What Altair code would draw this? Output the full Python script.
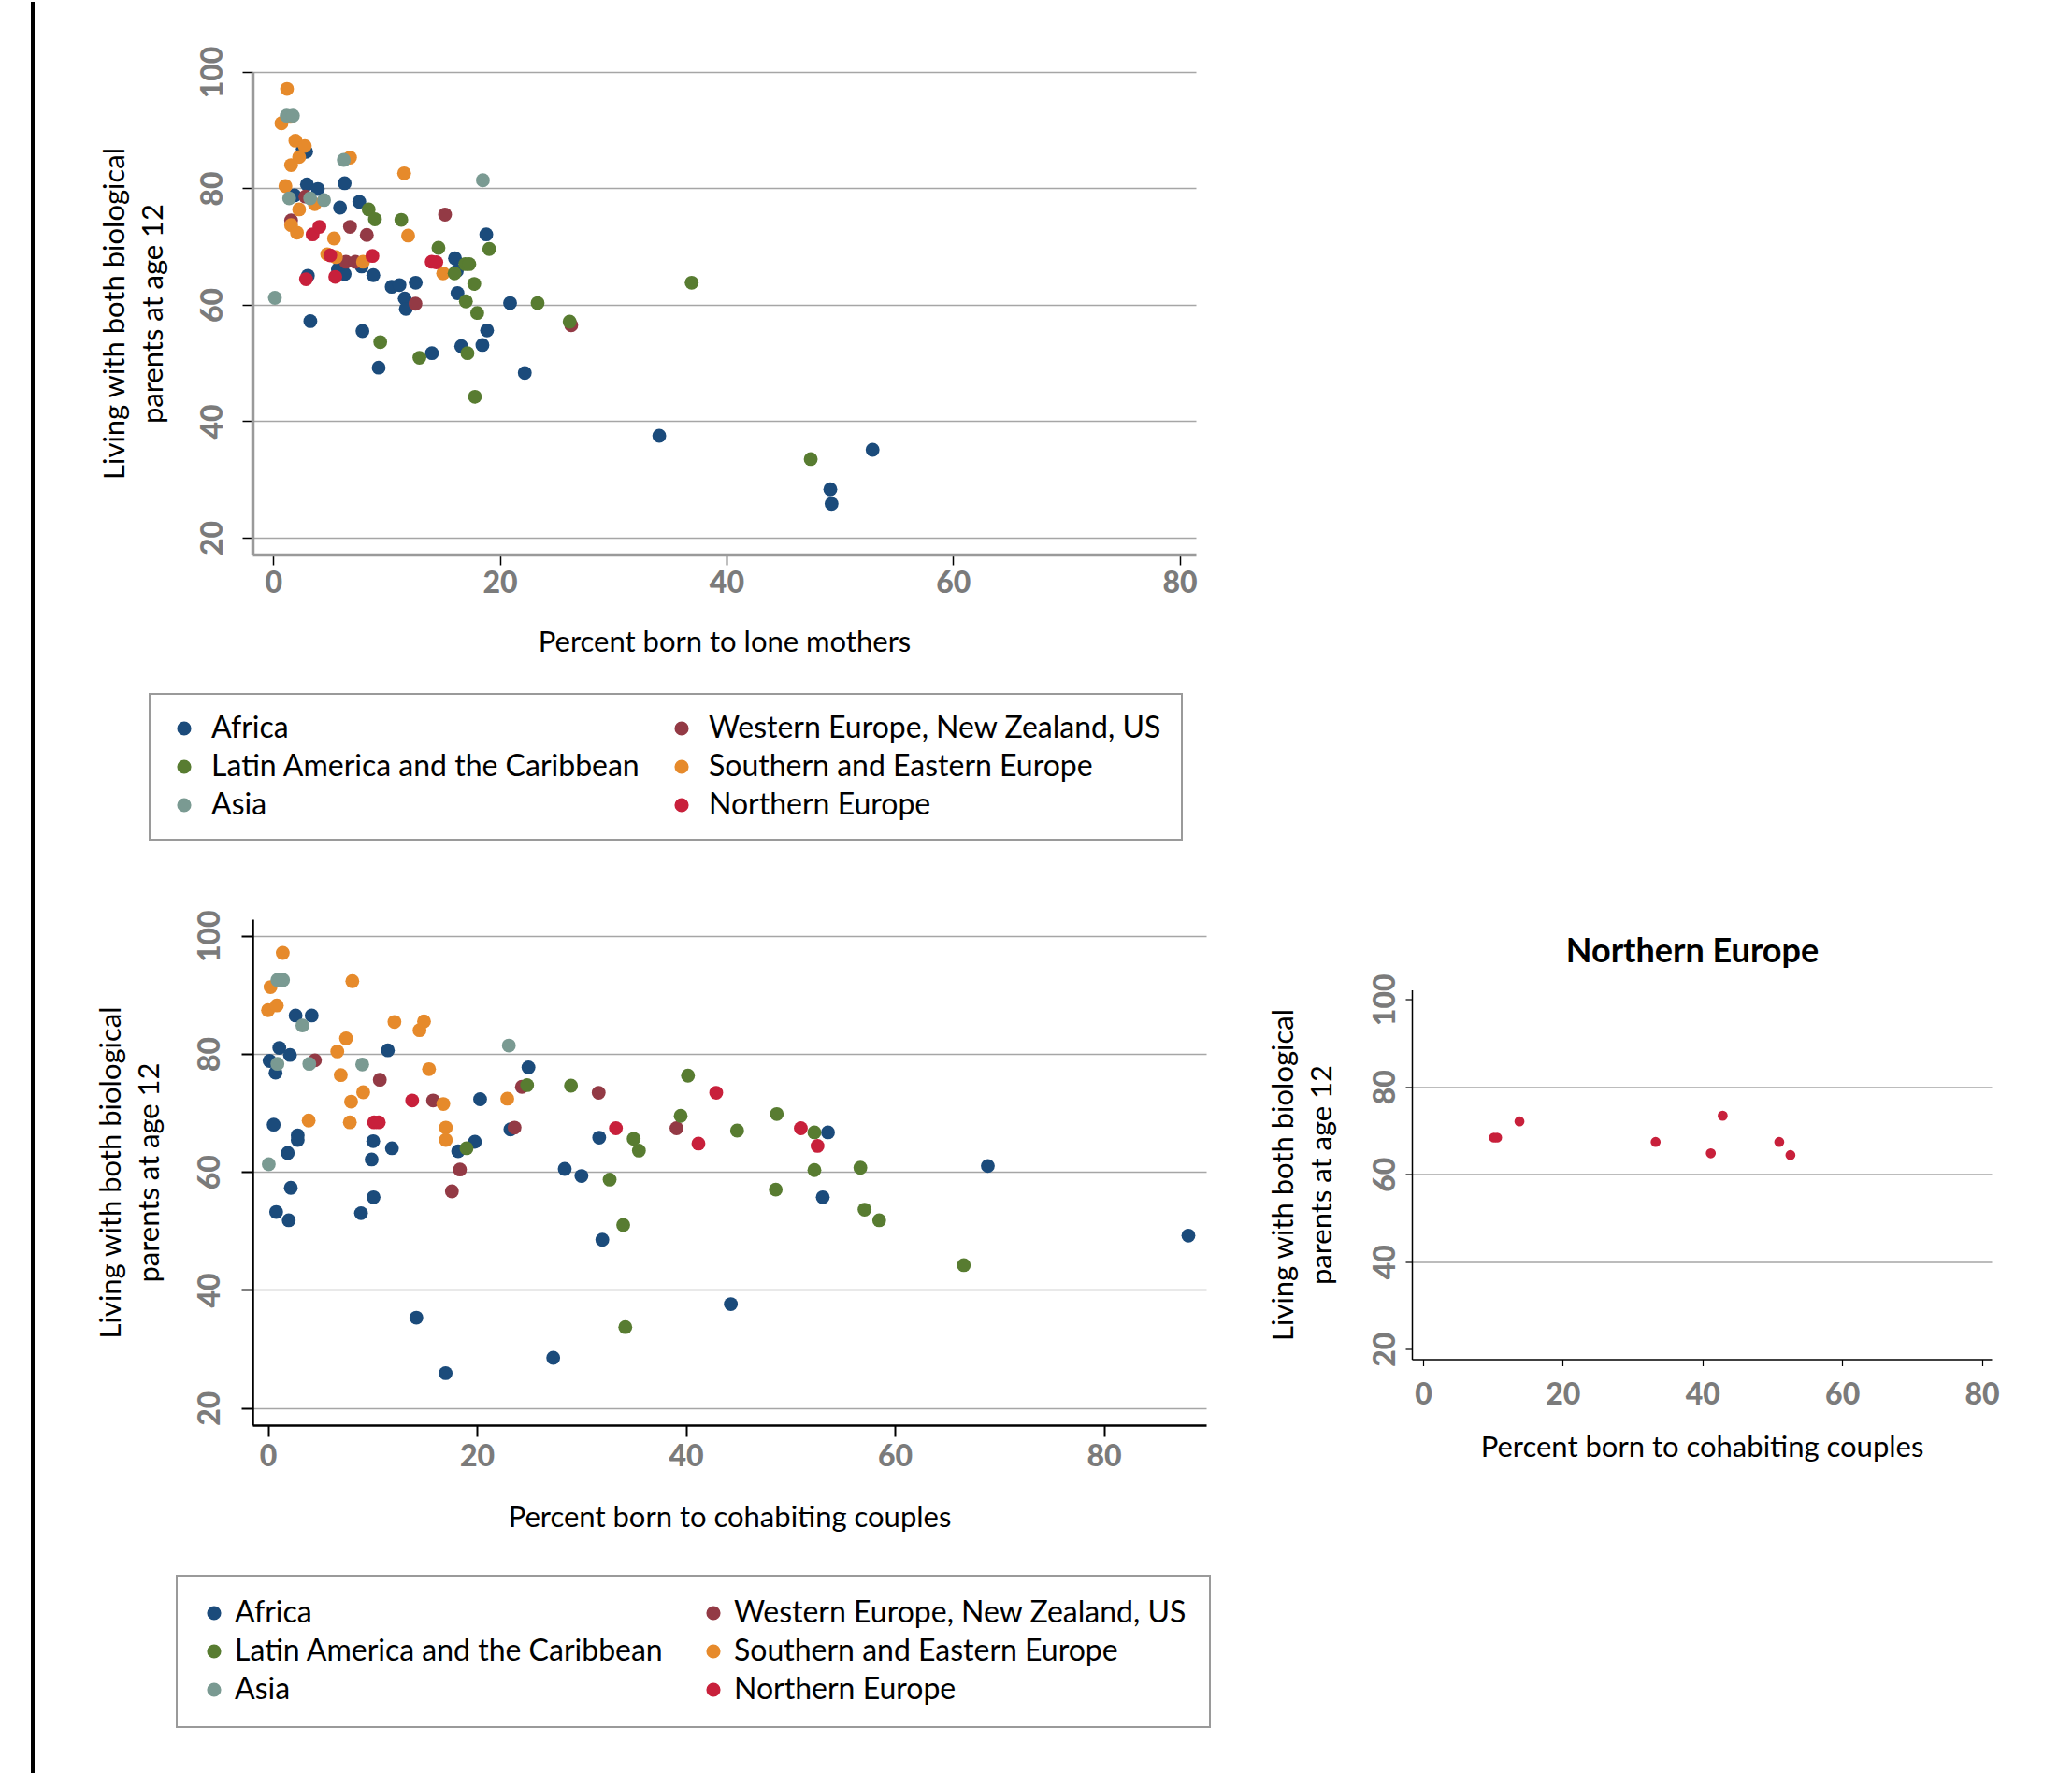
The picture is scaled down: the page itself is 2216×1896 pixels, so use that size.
import altair as alt
import pandas as pd

FONT = "Lato"
LABEL_GRAY = "#7b7b7b"

# Legend order (a 2-column legend fills column by column)
REGIONS = ["Africa", "Latin America and the Caribbean", "Asia",
           "Western Europe, New Zealand, US", "Southern and Eastern Europe", "Northern Europe"]
COLORS = ["#1b4b7b", "#587c31", "#7a9a92", "#933a45", "#e68a2b", "#c8203b"]
DRAW_ORDER = ["Africa", "Western Europe, New Zealand, US", "Southern and Eastern Europe",
              "Latin America and the Caribbean", "Asia", "Northern Europe"]

# ---------- Panel 1: percent born to lone mothers ----------
lone_africa_x = [2.97, 3.93, 6.3, 1.87, 5.89, 7.59, 18.8, 16.04, 16.2, 3.05, 5.7, 6.3, 7.8, 8.83,
                 10.45, 11.14, 12.57, 11.6, 11.7, 16.26, 20.9, 3.27, 7.87, 18.87, 9.3, 14.0, 16.59,
                 18.46, 22.2, 34.07, 49.17, 49.28, 52.9, 2.6, 2.9, 6.0]
lone_africa_y = [80.7, 79.9, 80.9, 78.8, 76.7, 77.7, 72.1, 68.0, 65.8, 65.0, 66.1, 65.3, 66.6, 65.1,
                 63.1, 63.4, 63.8, 61.1, 59.3, 62.0, 60.3, 57.2, 55.5, 55.6, 49.2, 51.7, 52.9,
                 53.1, 48.3, 37.5, 28.3, 25.8, 35.1, 86.8, 86.3, 67.0]
lone_latin_x = [8.42, 8.97, 11.3, 14.58, 19.06, 16.95, 17.3, 16.0, 17.74, 17.0, 18.0, 23.33, 26.16,
                9.44, 12.9, 17.14, 17.8, 36.93, 47.44]
lone_latin_y = [76.4, 74.7, 74.6, 69.8, 69.6, 67.0, 67.0, 65.4, 63.6, 60.6, 58.6, 60.3, 57.1,
                53.6, 50.9, 51.7, 44.2, 63.8, 33.5]
lone_asia_x = [1.18, 1.73, 6.22, 18.5, 1.4, 3.25, 4.48, 0.14]
lone_asia_y = [92.5, 92.5, 84.9, 81.4, 78.3, 78.3, 78.0, 61.2]
lone_west_x = [2.83, 1.57, 15.16, 6.77, 8.25, 6.41, 7.24, 12.55, 26.3]
lone_west_y = [78.6, 74.5, 75.5, 73.4, 72.0, 67.4, 67.4, 60.2, 56.5]
lone_south_x = [1.21, 0.72, 1.95, 2.78, 2.28, 1.57, 6.77, 11.55, 1.07, 2.28, 3.66, 1.57, 2.09,
                5.36, 11.9, 4.76, 5.53, 7.92, 14.99, 1.5]
lone_south_y = [97.1, 91.2, 88.2, 87.3, 85.4, 84.0, 85.3, 82.6, 80.4, 76.4, 77.3, 73.7, 72.4,
                71.4, 71.9, 68.7, 68.2, 67.4, 65.4, 92.3]
lone_north_x = [3.47, 4.07, 5.03, 8.75, 13.98, 14.39, 2.89, 5.47]
lone_north_y = [72.1, 73.4, 68.5, 68.4, 67.4, 67.3, 64.4, 64.8]

# ---------- Panel 2: percent born to cohabiting couples ----------
cohab_africa_x = [2.64, 4.18, 1.08, 2.1, 0.15, 0.72, 11.47, 24.93, 20.3, 0.54, 2.84, 2.84, 10.07,
                  11.86, 9.92, 1.89, 18.2, 19.8, 23.2, 31.7, 28.4, 30.0, 2.18, 10.1, 0.78, 1.98,
                  8.9, 32.0, 14.2, 53.6, 68.9, 53.1, 88.1, 44.3, 27.3, 17.0]
cohab_africa_y = [86.5, 86.5, 81.0, 79.8, 78.8, 76.8, 80.6, 77.7, 72.3, 68.0, 66.2, 65.4, 65.2,
                  64.0, 62.1, 63.2, 63.5, 65.1, 67.2, 65.8, 60.5, 59.3, 57.3, 55.7, 53.2, 51.8,
                  53.0, 48.5, 35.3, 66.7, 61.0, 55.7, 49.2, 37.6, 28.5, 25.9]
cohab_latin_x = [24.8, 29.0, 40.2, 39.5, 35.0, 35.5, 19.0, 32.7, 34.0, 34.2, 44.9, 48.7, 52.3,
                 48.6, 52.3, 56.7, 57.1, 58.5, 66.6]
cohab_latin_y = [74.7, 74.6, 76.3, 69.5, 65.6, 63.6, 64.0, 58.7, 51.0, 33.7, 67.0, 69.8, 66.7,
                 57.0, 60.3, 60.7, 53.6, 51.8, 44.2]
cohab_asia_x = [0.9, 1.44, 3.29, 0.9, 3.95, 9.02, 23.05, 0.07]
cohab_asia_y = [92.5, 92.5, 84.8, 78.3, 78.3, 78.2, 81.4, 61.3]
cohab_west_x = [4.49, 10.7, 15.8, 18.37, 17.6, 24.3, 23.6, 31.65, 39.1]
cohab_west_y = [78.9, 75.6, 72.1, 60.4, 56.7, 74.4, 67.5, 73.4, 67.4]
cohab_south_x = [1.41, 0.24, 0.0, 0.84, 8.07, 12.1, 14.5, 14.93, 7.47, 6.63, 6.96, 15.41, 9.11,
                 7.95, 3.89, 7.83, 16.78, 17.02, 17.02, 22.9]
cohab_south_y = [97.1, 91.3, 87.4, 88.2, 92.3, 85.4, 84.0, 85.5, 82.6, 80.4, 76.4, 77.4, 73.5,
                 71.9, 68.7, 68.4, 71.5, 67.5, 65.4, 72.4]
cohab_north_x = [13.8, 10.15, 10.6, 33.3, 42.9, 41.2, 51.0, 52.6]
cohab_north_y = [72.1, 68.4, 68.4, 67.4, 73.4, 64.8, 67.4, 64.4]

Y_TICKS = [20, 40, 60, 80, 100]
X_TICKS = [0, 20, 40, 60, 80]
Y_TITLE = ["Living with both biological", "parents at age 12"]


def frame(series):
    rows = []
    for region in DRAW_ORDER:
        xs, ys = series[region]
        for a, b in zip(xs, ys):
            rows.append({"x": a, "y": b, "region": region})
    return pd.DataFrame(rows)


top_df = frame({
    "Africa": (lone_africa_x, lone_africa_y),
    "Western Europe, New Zealand, US": (lone_west_x, lone_west_y),
    "Southern and Eastern Europe": (lone_south_x, lone_south_y),
    "Latin America and the Caribbean": (lone_latin_x, lone_latin_y),
    "Asia": (lone_asia_x, lone_asia_y),
    "Northern Europe": (lone_north_x, lone_north_y),
})
bottom_df = frame({
    "Africa": (cohab_africa_x, cohab_africa_y),
    "Western Europe, New Zealand, US": (cohab_west_x, cohab_west_y),
    "Southern and Eastern Europe": (cohab_south_x, cohab_south_y),
    "Latin America and the Caribbean": (cohab_latin_x, cohab_latin_y),
    "Asia": (cohab_asia_x, cohab_asia_y),
    "Northern Europe": (cohab_north_x, cohab_north_y),
})
north_df = pd.DataFrame({"x": cohab_north_x, "y": cohab_north_y})


def legend(lx, ly, label_offset, col_pad, pad):
    return alt.Legend(orient="none", legendX=lx, legendY=ly, columns=2, title=None,
                      labelFont=FONT, labelFontSize=32, labelColor="black", labelLimit=1000,
                      symbolType="circle", symbolSize=230, symbolStrokeWidth=0,
                      labelOffset=label_offset, rowPadding=9, columnPadding=col_pad,
                      padding=pad, strokeColor="#9a9a9a")


def x_axis(title, dom_color, dom_w, tick_w, tick_size, lab_pad, title_y, w):
    return alt.Axis(values=X_TICKS, title=title, grid=False, domainColor=dom_color,
                    domainWidth=dom_w, tickColor="black", tickWidth=tick_w, tickSize=tick_size,
                    labelFont=FONT, labelFontSize=32, labelFontWeight=900,
                    labelColor=LABEL_GRAY, labelPadding=lab_pad,
                    titleFont=FONT, titleFontSize=31, titleFontWeight="normal",
                    titleColor="black", titleX=w / 2, titleY=title_y,
                    titleBaseline="middle", titleAlign="center")


def y_axis(dom_color, dom_w, tick_w, tick_size, lab_pad, title_x, h, grid_opacity):
    return alt.Axis(values=Y_TICKS, title=Y_TITLE, grid=True, gridColor="#a6a6a6",
                    gridWidth=1.5, gridOpacity=grid_opacity, domainColor=dom_color,
                    domainWidth=dom_w, tickColor="black", tickWidth=tick_w, tickSize=tick_size,
                    labelAngle=270, labelAlign="center", labelBaseline="bottom",
                    labelFont=FONT, labelFontSize=32, labelFontWeight=900,
                    labelColor=LABEL_GRAY, labelPadding=lab_pad,
                    titleFont=FONT, titleFontSize=31, titleFontWeight="normal",
                    titleColor="black", titleX=title_x, titleY=h / 2,
                    titleBaseline="middle", titleAlign="center", titleLineHeight=41)


color_scale = alt.Scale(domain=REGIONS, range=COLORS)

# ---- top panel ----
TW, TH = 1009, 516
top_points = alt.Chart(top_df).mark_circle(size=220, opacity=1).encode(
    x=alt.X("x:Q", scale=alt.Scale(domain=[-1.84, 81.44], nice=False, zero=False),
            axis=x_axis("Percent born to lone mothers", "#9a9a9a", 3.5, 1.5, 11, 4, 94, TW)),
    y=alt.Y("y:Q", scale=alt.Scale(domain=[17.1, 100], nice=False, zero=False),
            axis=y_axis("#9a9a9a", 3.5, 1.5, 11, 15, -147, TH, 1)),
    color=alt.Color("region:N", scale=color_scale, legend=legend(-110, 665, 13, 28, 21)),
)
border = alt.Chart(pd.DataFrame({"v": [0]})).mark_rule(color="black", strokeWidth=4).encode(
    x=alt.value(-235), y=alt.value(-75), y2=alt.value(1821))
top = alt.layer(top_points, border).properties(width=TW, height=TH)

# ---- bottom panel ----
BW, BH = 1020, 541
bottom = alt.Chart(bottom_df).mark_circle(size=220, opacity=1).encode(
    x=alt.X("x:Q", scale=alt.Scale(domain=[-1.49, 89.8], nice=False, zero=False),
            axis=x_axis("Percent born to cohabiting couples", "black", 2.5, 2, 12, 6, 99, BW)),
    y=alt.Y("y:Q", scale=alt.Scale(domain=[17.1, 102.8], nice=False, zero=False),
            axis=y_axis("black", 2.5, 2, 12, 17, -151, BH, 1)),
    color=alt.Color("region:N", scale=color_scale, legend=legend(-81, 702, 6, 37, 24)),
).properties(width=BW, height=BH)

# ---- right panel ----
RW, RH = 620, 395
right = alt.Chart(north_df).mark_circle(size=115, opacity=1, color="#c8203b").encode(
    x=alt.X("x:Q", scale=alt.Scale(domain=[-1.6, 81.4], nice=False, zero=False),
            axis=x_axis("Percent born to cohabiting couples", "black", 1.5, 1.2, 7, 16, 95, RW)),
    y=alt.Y("y:Q", scale=alt.Scale(domain=[17.7, 102.2], nice=False, zero=False),
            axis=y_axis("black", 1.5, 1.2, 7, 5, -136.5, RH,
                        {"condition": {"test": "datum.value > 30 && datum.value < 90", "value": 1},
                         "value": 0})),
).properties(width=RW, height=RH,
             title=alt.TitleParams("Northern Europe", font=FONT, fontSize=36, fontWeight="bold",
                                   color="black", offset=4, dx=-10, anchor="middle"))

spacer = alt.Chart(pd.DataFrame({"v": [0]})).mark_point(opacity=0).encode(
    x=alt.X("v:Q", axis=None), y=alt.Y("v:Q", axis=None)).properties(width=RW, height=10)

left_col = alt.vconcat(top, bottom, spacing=390, bounds="flush").resolve_legend(color="independent")
right_col = alt.vconcat(spacer, right, spacing=971.5, bounds="flush")

chart = alt.hconcat(left_col, right_col, spacing=1240, bounds="flush").resolve_legend(
    color="independent"
).properties(
    padding={"left": 33, "top": 0, "right": 0, "bottom": 0},
    background="white",
).configure_view(strokeWidth=0, strokeOpacity=0).configure_legend(strokeWidth=2)

chart.save("out.html", embed_options={"renderer": "svg", "actions": False})
